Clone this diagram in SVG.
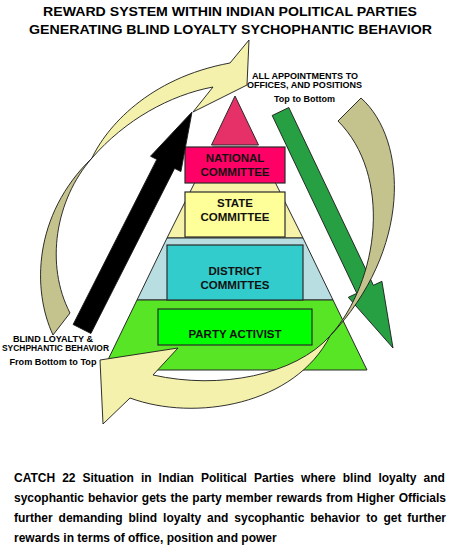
<svg xmlns="http://www.w3.org/2000/svg" width="458" height="548" viewBox="0 0 458 548">
<style>
text{font-family:"Liberation Sans",Arial,sans-serif;font-weight:bold;fill:#000}
.ttl{font-size:13px}
.lbl{font-size:11.5px;text-anchor:middle;fill:#111}
.side{font-size:8.5px;text-anchor:middle}
.para{font-size:12px}
.layer{stroke:#2a2a2a;stroke-width:1}
.box{stroke:#2a2a2a;stroke-width:1.2}
.arr{stroke:#1a1a1a;stroke-width:0.9;stroke-linejoin:miter}
.khaki{fill:#c5c38d}
.pale{fill:#f3f1ab}
</style>
<rect width="458" height="548" fill="#fff"/>
<g id="title">
<text class="ttl" x="230" y="16" text-anchor="middle" textLength="374" lengthAdjust="spacingAndGlyphs">REWARD SYSTEM WITHIN INDIAN POLITICAL PARTIES</text>
<text class="ttl" x="230.5" y="34" text-anchor="middle" textLength="403" lengthAdjust="spacingAndGlyphs">GENERATING BLIND LOYALTY SYCHOPHANTIC BEHAVIOR</text>
</g>
<g id="pyramid">
<polygon class="layer" points="235,96 258.5,145 211.5,145" fill="#e63068"/>
<polygon class="layer" points="212.5,147 257.5,147 303,238 167,238" fill="#f6f2a9"/>
<polygon class="layer" points="167,238 303,238 333,300 137,300" fill="#b9dee1"/>
<polygon class="layer" points="137,300 333,300 367,370 103,370" fill="#57e526"/>
</g>
<g id="national">
<rect class="box" x="185" y="147" width="100" height="36" fill="#ff0066"/>
<text class="lbl" x="235" y="162">NATIONAL</text>
<text class="lbl" x="235" y="176">COMMITTEE</text>
</g>
<g id="state">
<rect class="box" x="185" y="192" width="100" height="45" fill="#ffff99"/>
<text class="lbl" x="235" y="207">STATE</text>
<text class="lbl" x="235" y="221">COMMITTEE</text>
</g>
<g id="district">
<rect class="box" x="167" y="245" width="136" height="55" fill="#33cccc"/>
<text class="lbl" x="235" y="275">DISTRICT</text>
<text class="lbl" x="235" y="289">COMMITTES</text>
</g>
<g id="activist">
<rect class="box" x="158" y="309" width="154" height="36" fill="#00ff00"/>
<text class="lbl" x="235" y="338">PARTY ACTIVIST</text>
</g>
<g id="connectors">
<polygon id="down-arrow" class="arr" fill="#27a044" points="272.2,115.5 288.8,107.5 373.4,285.3 381.9,281.3 393,348 348.3,297.3 356.8,293.3"/>
<polygon id="up-arrow" class="arr" fill="#000" points="73.1,324.5 156.8,159.4 150.5,156.2 192,112 180.9,171.6 174.6,168.4 90.9,333.5"/>
<g id="left-cycle-arrow">
<path class="arr khaki" d="M53,335 C32,290 33,215 92,158 C55,200 45,265 70,313 Z"/>
<path class="arr pale" d="M92,158 C106,128 148,78 230,63 L249,40 L247,85 L193,112 L213,87 C170,95 125,120 92,158 Z"/>
</g>
<g id="right-cycle-arrow">
<path class="arr khaki" d="M338,121 L361,98 C408,140 412,250 330,336 C380,280 392,175 338,121 Z"/>
<path class="arr pale" d="M330,336 C295,375 220,390 153,375 L178,348 L100,360 L103,424 L130,398 C195,422 295,405 330,336 Z"/>
</g>
</g>
<g id="top-label">
<text class="side" x="305" y="79" textLength="106" lengthAdjust="spacingAndGlyphs">ALL APPOINTMENTS TO</text>
<text class="side" x="304.5" y="88" textLength="115" lengthAdjust="spacingAndGlyphs">OFFICES, AND POSITIONS</text>
<text class="side" x="304.5" y="102" textLength="61" lengthAdjust="spacingAndGlyphs">Top to Bottom</text>
</g>
<g id="bottom-label">
<text class="side" x="53" y="342" textLength="80" lengthAdjust="spacingAndGlyphs">BLIND LOYALTY &amp;</text>
<text class="side" x="55.5" y="351" textLength="107" lengthAdjust="spacingAndGlyphs">SYCHPHANTIC BEHAVIOR</text>
<text class="side" x="53" y="365" textLength="87" lengthAdjust="spacingAndGlyphs">From Bottom to Top</text>
</g>
<g id="caption">
<text class="para" x="14" y="482" word-spacing="3.7">CATCH 22 Situation in Indian Political Parties where blind loyalty and</text>
<text class="para" x="14" y="502" word-spacing="0.58">sycophantic behavior gets the party member rewards from Higher Officials</text>
<text class="para" x="14" y="522" word-spacing="2.59">further demanding blind loyalty and sycophantic behavior to get further</text>
<text class="para" x="14" y="542">rewards in terms of office, position and power</text>
</g>
</svg>
